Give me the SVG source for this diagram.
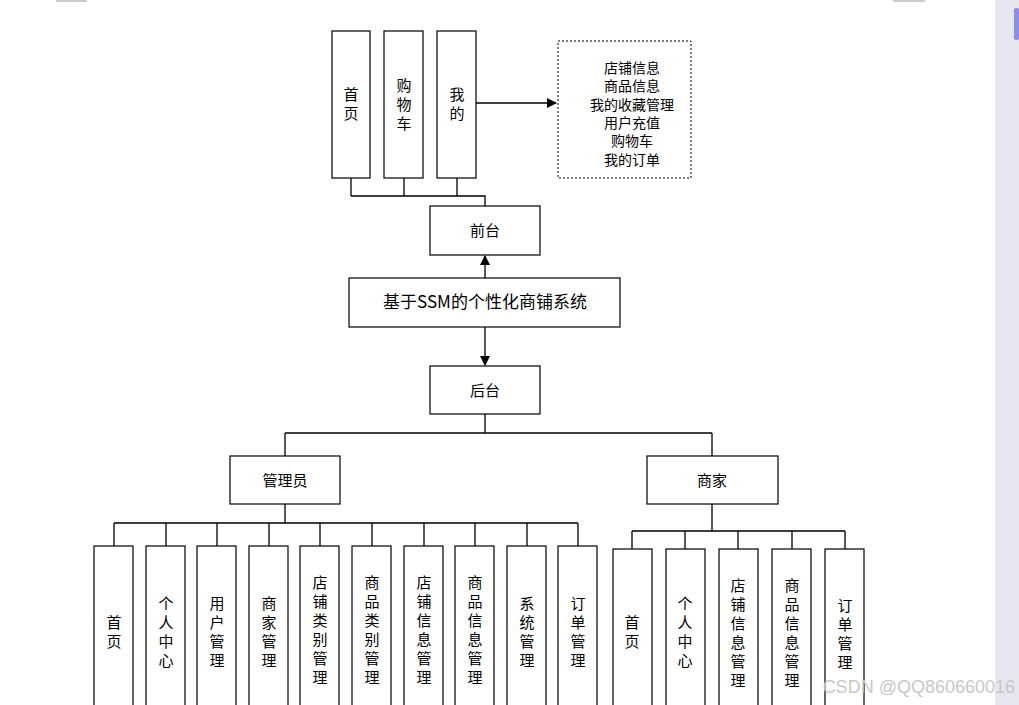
<svg xmlns="http://www.w3.org/2000/svg" width="1019" height="705" viewBox="0 0 1019 705">
<style>
.b{fill:#fff;stroke:#000;stroke-width:1.2}
.t{font-family:"Noto Sans CJK SC","Liberation Sans",sans-serif;font-size:15px;fill:#000;text-anchor:middle}
.l{font-size:14px}
.c{stroke:#000;stroke-width:1.3;fill:none}
</style>
<defs><marker id="a" markerWidth="10" markerHeight="10" refX="9" refY="5" orient="auto" markerUnits="userSpaceOnUse"><path d="M0,0L10,5L0,10z" fill="#000"/></marker></defs>
<rect width="1019" height="705" fill="#fff"/>
<rect x="995" y="0" width="24" height="705" fill="#e6e6ee"/>
<rect x="1014" y="8" width="5" height="32" rx="2" fill="#8a8cf0"/>
<rect x="56" y="0" width="31" height="2" fill="#ccc"/>
<rect x="893" y="0" width="32" height="2" fill="#ccc"/>
<g id="connectors">
<path class="c" d="M476,103H556" marker-end="url(#a)"/>
<path class="c" d="M351,178V196M404,178V196M457,178V196M351,196H485V206"/>
<path class="c" d="M485,278V256" marker-end="url(#a)"/>
<path class="c" d="M485,327V365" marker-end="url(#a)"/>
<path class="c" d="M485,414V433M285,433H712M285,433V456M712,433V456"/>
<path class="c" d="M285,504V523M114,523H578M114,523V546M166,523V546M217,523V546M269,523V546M320,523V546M372,523V546M424,523V546M475,523V546M527,523V546M578,523V546"/>
<path class="c" d="M712,504V531M632,531H845M632,531V549M685,531V549M738,531V549M792,531V549M845,531V549"/>
</g>
<g id="n-home"><rect class="b" x="332" y="31" width="38" height="147"/><text class="t" x="351" y="100">首</text><text class="t" x="351" y="119">页</text></g>
<g id="n-cart"><rect class="b" x="384" y="31" width="39" height="147"/><text class="t" x="404" y="91">购</text><text class="t" x="404" y="110">物</text><text class="t" x="404" y="129">车</text></g>
<g id="n-mine"><rect class="b" x="437" y="31" width="39" height="147"/><text class="t" x="457" y="100">我</text><text class="t" x="457" y="119">的</text></g>
<g id="n-list"><rect x="558" y="41" width="133" height="137" fill="#fff" stroke="#000" stroke-dasharray="2,2"/>
<text class="t l" x="632" y="73">店铺信息</text><text class="t l" x="632" y="91">商品信息</text><text class="t l" x="632" y="110">我的收藏管理</text><text class="t l" x="632" y="128">用户充值</text><text class="t l" x="632" y="146">购物车</text><text class="t l" x="632" y="165">我的订单</text></g>
<g id="n-front"><rect class="b" x="430" y="206" width="110" height="49"/><text class="t" x="485" y="236">前台</text></g>
<g id="n-main"><rect class="b" x="349" y="278" width="271" height="49"/><text class="t" x="485" y="308" style="font-size:17px">基于SSM的个性化商铺系统</text></g>
<g id="n-back"><rect class="b" x="430" y="366" width="110" height="48"/><text class="t" x="485" y="396">后台</text></g>
<g id="n-admin"><rect class="b" x="230" y="456" width="110" height="48"/><text class="t" x="285" y="486">管理员</text></g>
<g id="n-merchant"><rect class="b" x="647" y="456" width="131" height="48"/><text class="t" x="712" y="486">商家</text></g>
<g id="admin-children">
<g id="a1"><rect class="b" x="94" y="546" width="39" height="170"/><text class="t"><tspan x="114" y="628">首</tspan><tspan x="114" y="647">页</tspan></text></g>
<g id="a2"><rect class="b" x="146" y="546" width="39" height="170"/><text class="t"><tspan x="166" y="609">个</tspan><tspan x="166" y="628">人</tspan><tspan x="166" y="647">中</tspan><tspan x="166" y="666">心</tspan></text></g>
<g id="a3"><rect class="b" x="197" y="546" width="39" height="170"/><text class="t"><tspan x="217" y="609">用</tspan><tspan x="217" y="628">户</tspan><tspan x="217" y="647">管</tspan><tspan x="217" y="666">理</tspan></text></g>
<g id="a4"><rect class="b" x="249" y="546" width="39" height="170"/><text class="t"><tspan x="269" y="609">商</tspan><tspan x="269" y="628">家</tspan><tspan x="269" y="647">管</tspan><tspan x="269" y="666">理</tspan></text></g>
<g id="a5"><rect class="b" x="300" y="546" width="39" height="170"/><text class="t"><tspan x="320" y="588">店</tspan><tspan x="320" y="607">铺</tspan><tspan x="320" y="626">类</tspan><tspan x="320" y="645">别</tspan><tspan x="320" y="664">管</tspan><tspan x="320" y="683">理</tspan></text></g>
<g id="a6"><rect class="b" x="352" y="546" width="39" height="170"/><text class="t"><tspan x="372" y="588">商</tspan><tspan x="372" y="607">品</tspan><tspan x="372" y="626">类</tspan><tspan x="372" y="645">别</tspan><tspan x="372" y="664">管</tspan><tspan x="372" y="683">理</tspan></text></g>
<g id="a7"><rect class="b" x="404" y="546" width="39" height="170"/><text class="t"><tspan x="424" y="588">店</tspan><tspan x="424" y="607">铺</tspan><tspan x="424" y="626">信</tspan><tspan x="424" y="645">息</tspan><tspan x="424" y="664">管</tspan><tspan x="424" y="683">理</tspan></text></g>
<g id="a8"><rect class="b" x="455" y="546" width="39" height="170"/><text class="t"><tspan x="475" y="588">商</tspan><tspan x="475" y="607">品</tspan><tspan x="475" y="626">信</tspan><tspan x="475" y="645">息</tspan><tspan x="475" y="664">管</tspan><tspan x="475" y="683">理</tspan></text></g>
<g id="a9"><rect class="b" x="507" y="546" width="39" height="170"/><text class="t"><tspan x="527" y="609">系</tspan><tspan x="527" y="628">统</tspan><tspan x="527" y="647">管</tspan><tspan x="527" y="666">理</tspan></text></g>
<g id="a10"><rect class="b" x="558" y="546" width="39" height="170"/><text class="t"><tspan x="578" y="609">订</tspan><tspan x="578" y="628">单</tspan><tspan x="578" y="647">管</tspan><tspan x="578" y="666">理</tspan></text></g>
</g>
<g id="merchant-children">
<g id="m1"><rect class="b" x="613" y="549" width="39" height="170"/><text class="t"><tspan x="632" y="628">首</tspan><tspan x="632" y="647">页</tspan></text></g>
<g id="m2"><rect class="b" x="666" y="549" width="39" height="170"/><text class="t"><tspan x="685" y="609">个</tspan><tspan x="685" y="628">人</tspan><tspan x="685" y="647">中</tspan><tspan x="685" y="666">心</tspan></text></g>
<g id="m3"><rect class="b" x="719" y="549" width="39" height="170"/><text class="t"><tspan x="738" y="591">店</tspan><tspan x="738" y="610">铺</tspan><tspan x="738" y="629">信</tspan><tspan x="738" y="648">息</tspan><tspan x="738" y="667">管</tspan><tspan x="738" y="686">理</tspan></text></g>
<g id="m4"><rect class="b" x="772" y="549" width="39" height="170"/><text class="t"><tspan x="792" y="591">商</tspan><tspan x="792" y="610">品</tspan><tspan x="792" y="629">信</tspan><tspan x="792" y="648">息</tspan><tspan x="792" y="667">管</tspan><tspan x="792" y="686">理</tspan></text></g>
<g id="m5"><rect class="b" x="825" y="549" width="39" height="170"/><text class="t"><tspan x="845" y="611">订</tspan><tspan x="845" y="630">单</tspan><tspan x="845" y="649">管</tspan><tspan x="845" y="668">理</tspan></text></g>
</g>
<text x="1015" y="693" text-anchor="end" style="font-family:'Liberation Sans',sans-serif;font-size:18px;fill:#c8c8c8">CSDN @QQ860660016</text>
</svg>
